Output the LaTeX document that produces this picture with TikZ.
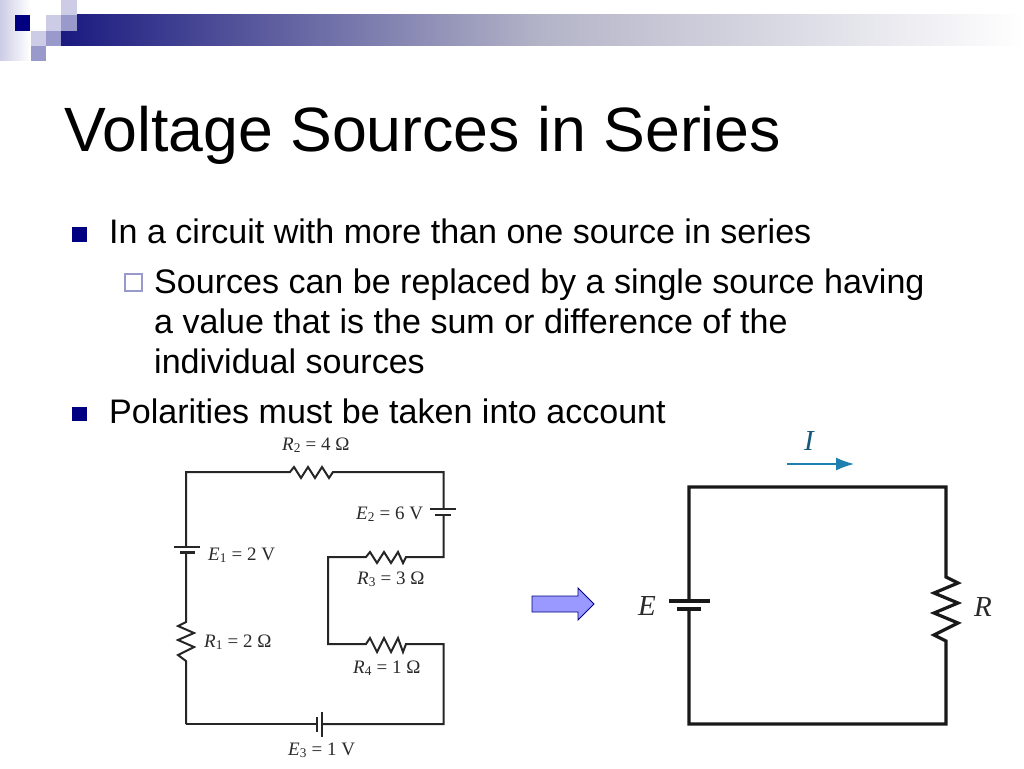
\documentclass[tikz,border=0pt]{standalone}
\usepackage{fontspec}
\setmainfont{Liberation Sans}
\newfontfamily\serifcirc{Liberation Serif}
\usetikzlibrary{arrows.meta}
\definecolor{navyband}{HTML}{1A1A80}
\definecolor{bandmid}{HTML}{B4B4C8}
\definecolor{lavA}{HTML}{CCCCE6}
\definecolor{lavB}{HTML}{9999CC}
\definecolor{navybox}{HTML}{000080}
\definecolor{arrowfill}{HTML}{9999FF}
\definecolor{curblue}{HTML}{1F7FAF}
\definecolor{labelgrey}{HTML}{2A2A2A}
\tikzset{
  wire/.style={draw=black!85,line width=2pt,line join=miter},
  plate/.style={draw=black!85,line width=2.2pt},
  bigwire/.style={draw=black!90,line width=3.2pt,line join=miter},
  lab/.style={font=\serifcirc\fontsize{19}{19}\selectfont,text=labelgrey,inner sep=0pt,anchor=base west},
  biglab/.style={font=\serifcirc\fontsize{29}{29}\selectfont\itshape,text=labelgrey,inner sep=0pt},
  body/.style={anchor=base west,inner sep=0pt,font=\fontsize{34.05}{34.05}\selectfont,text=black},
  sq/.style={fill=#1,draw=none},
}
\begin{document}
\begin{tikzpicture}[x=1pt,y=-1pt,line cap=butt]
\useasboundingbox (0,0) rectangle (1024,768);
\fill[white] (0,0) rectangle (1024,768);
% header
\shade[left color=lavA,right color=white] (0,0) rectangle (30,60);
\shade[left color=navyband,right color=white,middle color=bandmid] (61,15) rectangle (1024,46);
\fill[lavA] (61,0) rectangle (77,15);
\fill[lavB] (61,15) rectangle (77,31);
\fill[lavA] (46,15) rectangle (61,31);
\fill[white] (30,15) rectangle (46,31);
\fill[navybox] (15,15) rectangle (30,31);
\fill[lavA] (31,31) rectangle (46,46);
\fill[lavB] (46,31) rectangle (61,46);
\fill[lavB] (31,46) rectangle (46,61);
% text
\node[anchor=base west,inner sep=0pt,font=\fontsize{62.6}{62.6}\selectfont] (title) at (64,151) {Voltage Sources in Series};
\node[sq=navybox,minimum size=14.5pt,inner sep=0pt] (b1) at (79.5,234.5) {};
\node[body] (t1) at (109,243.7) {In a circuit with more than one source in series};
\node[draw=lavB,line width=1.3pt,fill=white,minimum size=17pt,inner sep=0pt] (b2) at (133.5,282.5) {};
\node[body] (t2) at (154,293.7) {Sources can be replaced by a single source having};
\node[body] (t3) at (154,333.7) {a value that is the sum or difference of the};
\node[body] (t4) at (154,373.7) {individual sources};
\node[sq=navybox,minimum size=14.5pt,inner sep=0pt] (b3) at (79.5,414) {};
\node[body] (t5) at (109,423.7) {Polarities must be taken into account};
% left circuit coordinates
\coordinate (tl) at (186,472);
\coordinate (tr) at (443.5,472);
\coordinate (bl) at (186,724);
\coordinate (br) at (443.5,724);
\coordinate (r3r) at (443.5,557);
\coordinate (r3l) at (328,557);
\coordinate (r4l) at (328,644);
\coordinate (r4r) at (443.5,644);
% wires and resistors
\draw[wire] (bl) -- (186,661) -- (178,655) -- (194,647) -- (178,640) -- (194,633) -- (178,626) -- (186,622) -- (186,552);
\draw[wire] (186,547) -- (tl) -- (290,472) -- (294,467) -- (301,478) -- (308,467) -- (315,478) -- (322,467) -- (329,478) -- (333,472) -- (tr) -- (443.5,509);
\draw[wire] (443.5,515) -- (r3r) -- (406,557) -- (403,563) -- (398,552) -- (391,563) -- (384,552) -- (377,563) -- (370,552) -- (366,557) -- (r3l) -- (r4l) -- (366,644) -- (370,638) -- (377,652) -- (384,638) -- (391,652) -- (398,638) -- (403,652) -- (406,644) -- (r4r) -- (br) -- (322,724);
\draw[wire] (317,724) -- (bl);
% batteries
\draw[plate] (174,547) -- (200,547);
\draw[plate] (180,552.5) -- (195,552.5);
\draw[plate] (430,509) -- (456,509);
\draw[plate] (435,515) -- (451,515);
\draw[plate] (322,712) -- (322,737);
\draw[plate] (317,717) -- (317,732);
% left labels
\node[lab] (lR2) at (282,450) {\textit{R}\textsubscript{2} = 4 Ω};
\node[lab] (lE2) at (356,519) {\textit{E}\textsubscript{2} = 6 V};
\node[lab] (lE1) at (208,560) {\textit{E}\textsubscript{1} = 2 V};
\node[lab] (lR3) at (357,584) {\textit{R}\textsubscript{3} = 3 Ω};
\node[lab] (lR1) at (204,647) {\textit{R}\textsubscript{1} = 2 Ω};
\node[lab] (lR4) at (353,673) {\textit{R}\textsubscript{4} = 1 Ω};
\node[lab] (lE3) at (288,755) {\textit{E}\textsubscript{3} = 1 V};
% block arrow
\draw[draw=navybox,line width=0.9pt,fill=arrowfill,line join=miter] (532,596) -- (578,596) -- (578,588) -- (594,604) -- (578,620) -- (578,612) -- (532,612) -- cycle;
% right circuit
\coordinate (Tl) at (689,487);
\coordinate (Tr) at (946,487);
\coordinate (Bl) at (689,724);
\coordinate (Br) at (946,724);
\draw[bigwire] (689,601) -- (Tl) -- (Tr) -- (946,577) -- (958,583) -- (934,593) -- (958,603) -- (934,613) -- (958,623) -- (934,635) -- (946,641) -- (Br) -- (Bl) -- (689,609);
\draw[bigwire] (669,601) -- (709.5,601);
\draw[bigwire] (677,609) -- (701,609);
\node[biglab] (lE) at (647,606) {E};
\node[biglab] (lR) at (983,607) {R};
\node[biglab,text=curblue!70!black] (lI) at (809,441) {I};
\coordinate (ia) at (787,464);
\coordinate (ib) at (854,464);
\draw[curblue,line width=1.4pt,-{Latex[length=18pt,width=13pt]}] (ia) -- (ib);
\end{tikzpicture}
\end{document}
